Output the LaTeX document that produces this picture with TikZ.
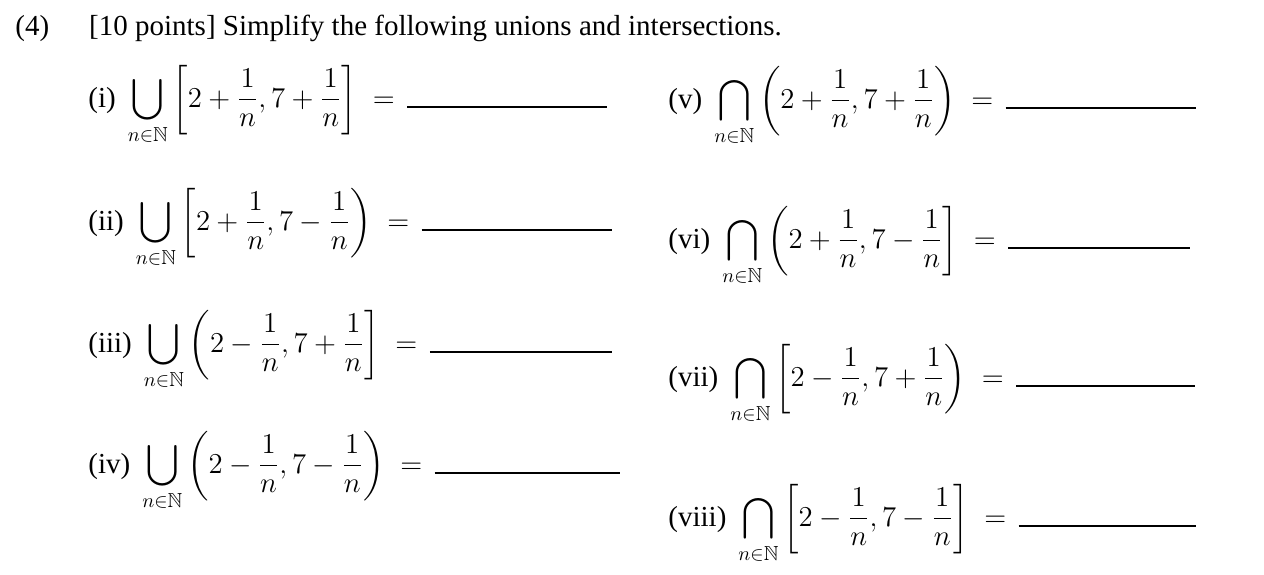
\documentclass[tikz,border=0pt]{standalone}
\usepackage{amsmath,amssymb}
\usepackage{fontspec}
\setmainfont{Liberation Serif}
\begin{document}
\begin{tikzpicture}[x=0.5pt,y=-0.5pt,
  item/.style={anchor=base west,inner sep=0pt,font=\fontsize{14.5}{17}\selectfont},
  blank/.style={line width=0.6pt}]
\useasboundingbox (0,0) rectangle (1264,574);
\node[item] (h) at (15,35) {(4)\hspace{20pt}[10 points] Simplify the following unions and intersections.};
\newcommand{\itm}[6]{%
  \node[item] (#1) at (#2,#3) {#4\ \,$\displaystyle\bigcup_{n\in\mathbb N}\,#5\;=$};
  \draw[blank] ([xshift=6pt]#1.base east) -- (#6,#3);}
\newcommand{\itmi}[6]{%
  \node[item] (#1) at (#2,#3) {#4\ \,$\displaystyle\bigcap_{n\in\mathbb N}\,#5\;=$};
  \draw[blank] ([xshift=6pt]#1.base east) -- (#6,#3);}
\itm{a}{88}{107}{(i)}{\biggl[2+\frac1n,7+\frac1n\biggr]}{607}
\itm{b}{88}{230}{(ii)}{\biggl[2+\frac1n,7-\frac1n\biggr)}{612}
\itm{c}{88}{352}{(iii)}{\biggl(2-\frac1n,7+\frac1n\biggr]}{612}
\itm{d}{88}{473}{(iv)}{\biggl(2-\frac1n,7-\frac1n\biggr)}{620}
\itmi{e}{668}{108}{(v)}{\biggl(2+\frac1n,7+\frac1n\biggr)}{1196}
\itmi{f}{668}{248}{(vi)}{\biggl(2+\frac1n,7-\frac1n\biggr]}{1190}
\itmi{g}{668}{386}{(vii)}{\biggl[2-\frac1n,7+\frac1n\biggr)}{1195}
\itmi{k}{668}{526}{(viii)}{\biggl[2-\frac1n,7-\frac1n\biggr]}{1196}
\end{tikzpicture}
\end{document}
